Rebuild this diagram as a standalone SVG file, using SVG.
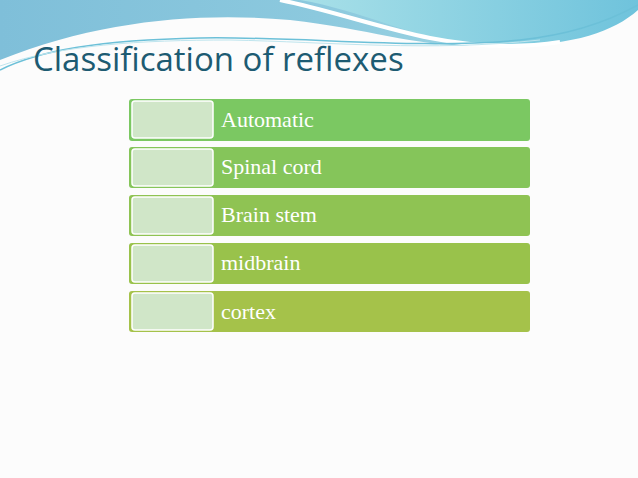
<svg xmlns="http://www.w3.org/2000/svg" width="638" height="478" viewBox="0 0 638 478">
<defs>
<linearGradient id="sky" x1="0" y1="0" x2="1" y2="0"><stop offset="0" stop-color="#7fbfd9"/><stop offset="0.5" stop-color="#8cc9de"/><stop offset="1" stop-color="#a8dde6"/></linearGradient>
<linearGradient id="sky2" x1="0" y1="0" x2="1" y2="0"><stop offset="0" stop-color="#a8e0e8"/><stop offset="1" stop-color="#6fc3dc"/></linearGradient>
<style>
.bar{stroke:none}
.inner{fill:#d0e6c8;stroke:#ffffff;stroke-width:1.5}
.lbl{font-family:"Liberation Serif",serif;font-size:22px;fill:#ffffff}
</style>
</defs>
<rect width="638" height="478" fill="#fcfcfc"/>
<path d="M0 0H638V0C600 20 560 40 500 45C420 50 380 30 290 20C200 12 100 20 0 60Z" fill="url(#sky)"/>
<path d="M300 0H638V10C610 35 560 50 470 45C420 40 360 10 300 0Z" fill="url(#sky2)"/>
<path d="M280 0C330 10 380 28 430 38C480 48 520 48 560 42" fill="none" stroke="#ffffff" stroke-width="4"/>
<path d="M0 70C40 50 100 40 200 38C300 36 420 50 520 40C580 34 620 15 638 5" fill="none" stroke="#6cc0d8" stroke-width="1.5"/>
<path d="M0 66C60 45 140 40 230 40C330 42 430 52 540 40" fill="none" stroke="#bfe5ee" stroke-width="1"/>
<text x="33" y="71" font-family="'Open Sans','Noto Sans',sans-serif" font-size="33" fill="#1d5b72">Classification of reflexes</text>
<g id="n1"><rect class="bar" x="129" y="99" width="401" height="42" rx="3" fill="#7bc862"/><rect class="inner" x="132" y="101" width="81" height="37" rx="3"/><text class="lbl" x="221" y="127">Automatic</text></g>
<g id="n2"><rect class="bar" x="129" y="147" width="401" height="41" rx="3" fill="#85c55a"/><rect class="inner" x="132" y="149" width="81" height="37" rx="3"/><text class="lbl" x="221" y="174">Spinal cord</text></g>
<g id="n3"><rect class="bar" x="129" y="195" width="401" height="41" rx="3" fill="#8fc353"/><rect class="inner" x="132" y="197" width="81" height="37" rx="3"/><text class="lbl" x="221" y="222">Brain stem</text></g>
<g id="n4"><rect class="bar" x="129" y="243" width="401" height="41" rx="3" fill="#99c24b"/><rect class="inner" x="132" y="245" width="81" height="37" rx="3"/><text class="lbl" x="221" y="270">midbrain</text></g>
<g id="n5"><rect class="bar" x="129" y="291" width="401" height="41" rx="3" fill="#a5c24a"/><rect class="inner" x="132" y="293" width="81" height="37" rx="3"/><text class="lbl" x="221" y="319">cortex</text></g>
<g id="connectors"/>
</svg>
